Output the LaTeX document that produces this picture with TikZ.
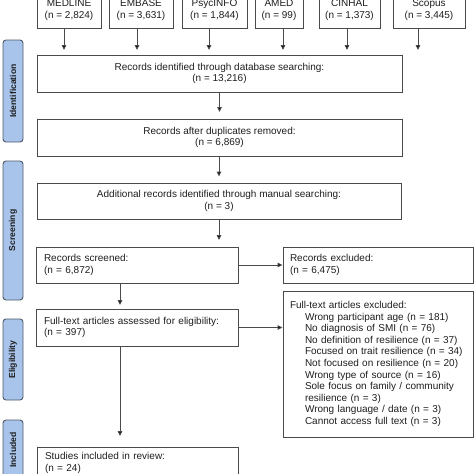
\documentclass[tikz,border=0pt]{standalone}
\usepackage{fontspec}
\setmainfont{Liberation Sans}
\usetikzlibrary{arrows.meta}
\definecolor{boxgray}{HTML}{4A4A4A}
\definecolor{textgray}{HTML}{1E1E1E}
\definecolor{labelfill}{HTML}{A8C4EA}
\definecolor{labeldraw}{HTML}{4E5A6A}
\begin{document}
\begin{tikzpicture}[x=1pt,y=-1pt,
  box/.style={draw=boxgray, line width=0.9pt, inner sep=0pt, minimum height=36pt,
    font=\fontsize{10}{11.6}\selectfont, text=textgray, align=center},
  lbox/.style={box, align=left, inner xsep=8pt},
  phase/.style={draw=labeldraw, fill=labelfill, line width=0.9pt, rounded corners=3pt,
    rotate=90, minimum height=20pt, inner sep=0pt, text=textgray,
    font=\fontsize{8.6}{9}\selectfont\bfseries},
  arr/.style={draw=boxgray, line width=0.9pt, -{Triangle[length=5pt,width=4.5pt,fill=black]}}]
\useasboundingbox (0,0) rectangle (474,474);
\clip (0,0) rectangle (474,474);
% database boxes
\node[box, minimum width=64pt] (medline) at (69,10) {MEDLINE\\(n = 2,824)};
\node[box, minimum width=64pt] (embase) at (141,10) {EMBASE\\(n = 3,631)};
\node[box, minimum width=65pt] (psyc) at (214.5,10) {PsycINFO\\(n = 1,844)};
\node[box, minimum width=48pt] (amed) at (279,10) {AMED\\(n = 99)};
\node[box, minimum width=61pt] (cinhal) at (349.5,10) {CINHAL\\(n = 1,373)};
\node[box, minimum width=72pt] (scopus) at (429,10) {Scopus\\(n = 3,445)};
\coordinate (t1) at (64,50);
\coordinate (t2) at (137,50);
\coordinate (t3) at (209,50);
\coordinate (t4) at (283,50);
\coordinate (t5) at (347,50);
\coordinate (t6) at (418,50);
\draw[arr] (medline.south -| t1) -- (t1);
\draw[arr] (embase.south -| t2) -- (t2);
\draw[arr] (psyc.south -| t3) -- (t3);
\draw[arr] (amed.south -| t4) -- (t4);
\draw[arr] (cinhal.south -| t5) -- (t5);
\draw[arr] (scopus.south -| t6) -- (t6);
% main flow
\node[box, minimum width=365pt, minimum height=37pt] (ident) at (219.5,73.5)
  {Records identified through database searching:\\(n = 13,216)};
\node[box, minimum width=365pt, minimum height=37pt] (dup) at (219.5,137.5)
  {Records after duplicates removed:\\(n = 6,869)};
\node[box, minimum width=364pt] (add) at (219,201)
  {Additional records identified through manual searching:\\(n = 3)};
\node[lbox, minimum width=202pt, text width=186pt] (screened) at (137,265)
  {Records screened:\\(n = 6,872)};
\node[lbox, minimum width=190pt, text width=176pt, inner xsep=7pt] (excl) at (378,265)
  {Records excluded:\\(n = 6,475)};
\node[lbox, minimum width=202pt, text width=186pt, minimum height=37pt] (full) at (137,327.5)
  {Full-text articles assessed for eligibility:\\(n = 397)};
\node[lbox, minimum width=190pt, text width=176pt, inner xsep=7pt, minimum height=146pt] (ftexcl) at (378,364)
  {Full-text articles excluded:\\
   \hspace*{15pt}Wrong participant age (n = 181)\\
   \hspace*{15pt}No diagnosis of SMI (n = 76)\\
   \hspace*{15pt}No definition of resilience (n = 37)\\
   \hspace*{15pt}Focused on trait resilience (n = 34)\\
   \hspace*{15pt}Not focused on resilience (n = 20)\\
   \hspace*{15pt}Wrong type of source (n = 16)\\
   \hspace*{15pt}Sole focus on family / community\\
   \hspace*{15pt}resilience (n = 3)\\
   \hspace*{15pt}Wrong language / date (n = 3)\\
   \hspace*{15pt}Cannot access full text (n = 3)};
\node[lbox, minimum width=201pt, text width=185pt, minimum height=31.5pt] (incl) at (137.5,462.75)
  {Studies included in review:\\(n = 24)};
% arrows
\draw[arr, shorten >=6.5pt] (ident.south) -- (dup.north);
\draw[arr, shorten >=6pt] (dup.south -| add) -- (add.north);
\draw[arr, shorten >=6.5pt] (add.south) -- (add.south |- screened.north);
\coordinate (s1) at (120,305);
\draw[arr] (screened.south -| s1) -- (s1);
\coordinate (s2) at (120,436);
\draw[arr] (full.south -| s2) -- (s2);
\draw[arr] (screened.east) -- (excl.west);
\draw[arr] (full.east) -- (full.east -| ftexcl.west);
% phase labels
\node[phase, minimum width=102pt] (pid) at (13,91) {Identification};
\node[phase, minimum width=139pt] (pscr) at (13,230.5) {Screening};
\node[phase, minimum width=81pt] (pel) at (13,359.5) {Eligibility};
\node[phase, minimum width=60pt] (pinc) at (13,450) {Included};
\end{tikzpicture}
\end{document}
